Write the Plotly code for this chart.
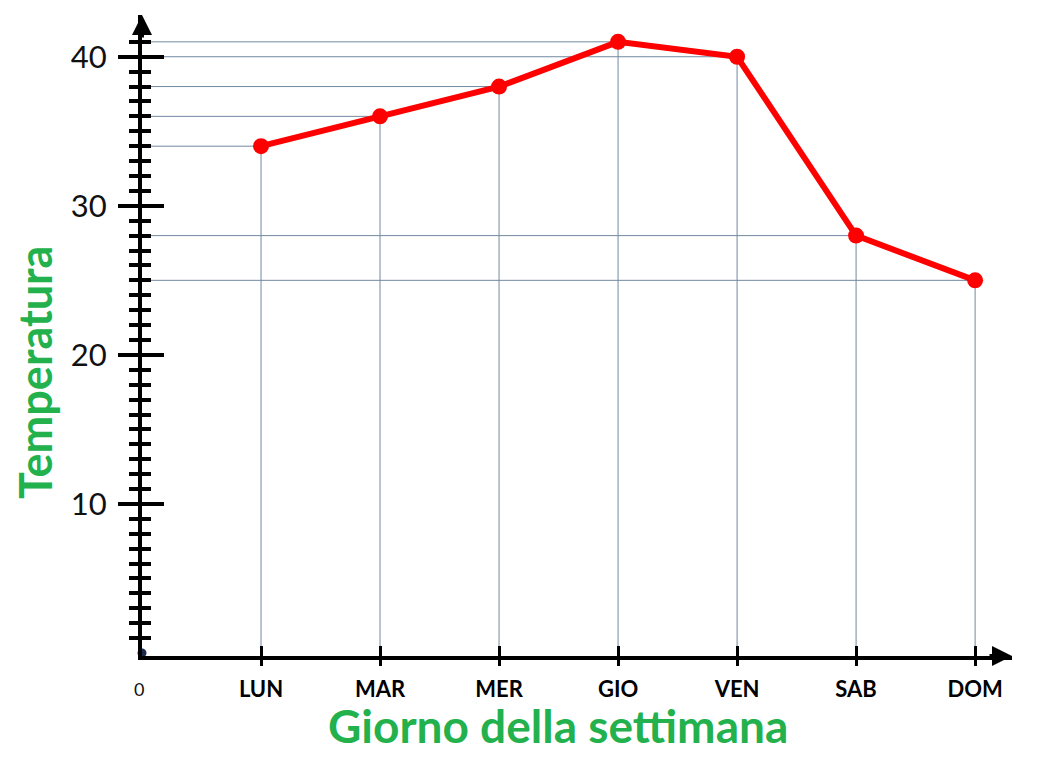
import plotly.graph_objects as go

days = ["LUN", "MAR", "MER", "GIO", "VEN", "SAB", "DOM"]
temperatures = [34, 36, 38, 41, 40, 28, 25]
y_major_ticks = [10, 20, 30, 40]
y_minor_ticks = [v for v in range(1, 42) if v not in y_major_ticks]

x_pos = list(range(1, len(days) + 1))

GRID = "#7189A0"
GREEN = "#22B14C"
FONT = "Lato, 'Open Sans', sans-serif"

fig = go.Figure()

# guide lines from each point to the axes
gx, gy = [], []
for xi, v in zip(x_pos, temperatures):
    gx += [0, xi, xi, None]
    gy += [v, v, 0, None]
fig.add_trace(go.Scatter(x=gx, y=gy, mode="lines", line=dict(color=GRID, width=1),
                         hoverinfo="skip", showlegend=False))

# main series
fig.add_trace(go.Scatter(x=x_pos, y=temperatures, mode="lines+markers",
                         line=dict(color="#FF0000", width=6),
                         marker=dict(color="#FF0000", size=16),
                         showlegend=False, cliponaxis=False))

# origin dot (on the overlaying axes so it sits above the axis lines)
fig.add_trace(go.Scatter(x=[0], y=[0], xaxis="x2", yaxis="y2", mode="markers",
                         marker=dict(color="#1B2A4A", size=9),
                         showlegend=False, cliponaxis=False, hoverinfo="skip"))

xr = [0, 7.31]
yr = [-0.2, 42.8]

fig.update_layout(
    width=1038, height=764,
    margin=dict(l=134, r=34, t=7, b=116, autoexpand=False),
    paper_bgcolor="white", plot_bgcolor="white",
    xaxis=dict(range=xr, showgrid=False, zeroline=False, automargin=False,
               showline=True, linecolor="black", linewidth=4,
               tickmode="array", tickvals=x_pos, ticktext=days,
               ticks="outside", ticklen=6, tickwidth=3, tickcolor="black",
               tickfont=dict(family=FONT, size=22, color="black", weight="bold"),
               ticklabelstandoff=5),
    yaxis=dict(range=yr, showgrid=False, zeroline=False, automargin=False,
               showline=True, linecolor="black", linewidth=4,
               tickmode="array", tickvals=y_major_ticks,
               ticks="outside", ticklen=20, tickwidth=4, tickcolor="black",
               tickfont=dict(family=FONT, size=31, color="#111111"),
               ticklabelstandoff=5,
               minor=dict(tickmode="array", tickvals=y_minor_ticks, ticks="outside",
                          ticklen=9, tickwidth=4, tickcolor="black")),
    xaxis2=dict(range=xr, overlaying="x", anchor="y", side="bottom", automargin=False,
                showgrid=False, zeroline=False, showline=False,
                tickmode="array", tickvals=x_pos, showticklabels=False,
                ticks="inside", ticklen=10, tickwidth=3, tickcolor="black"),
    yaxis2=dict(range=yr, overlaying="y", anchor="x", side="left", automargin=False,
                showgrid=False, zeroline=False, showline=False,
                tickmode="array", tickvals=y_major_ticks, showticklabels=False,
                ticks="inside", ticklen=22, tickwidth=4, tickcolor="black",
                minor=dict(tickmode="array", tickvals=y_minor_ticks, ticks="inside",
                           ticklen=9, tickwidth=4, tickcolor="black")),
    annotations=[
        # arrowheads
        dict(x=0, y=yr[1], xref="x", yref="y", ax=0, ay=24, showarrow=True,
             arrowhead=2, arrowsize=1.0, arrowwidth=4, arrowcolor="black", text=""),
        dict(x=xr[1], y=yr[0], xref="x", yref="y", ax=-24, ay=0, showarrow=True,
             arrowhead=2, arrowsize=1.0, arrowwidth=4, arrowcolor="black", text=""),
        # origin label
        dict(x=0, y=0, xref="x", yref="y", text="0", showarrow=False,
             xshift=-3, yshift=-36, font=dict(family=FONT, size=18, color="#111111")),
        # axis titles
        dict(x=(558 - 142) / 870, y=-(725 - 656) / 641, xref="paper", yref="paper",
             text="Giorno della settimana", showarrow=False,
             xanchor="center", yanchor="middle",
             font=dict(family=FONT, size=46, color=GREEN, weight="bold")),
        dict(x=(35 - 142) / 870, y=(656 - 373) / 641, xref="paper", yref="paper",
             text="Temperatura", showarrow=False, textangle=-90,
             xanchor="center", yanchor="middle",
             font=dict(family=FONT, size=45, color=GREEN, weight="bold")),
    ],
)

fig.write_html("out.html")
